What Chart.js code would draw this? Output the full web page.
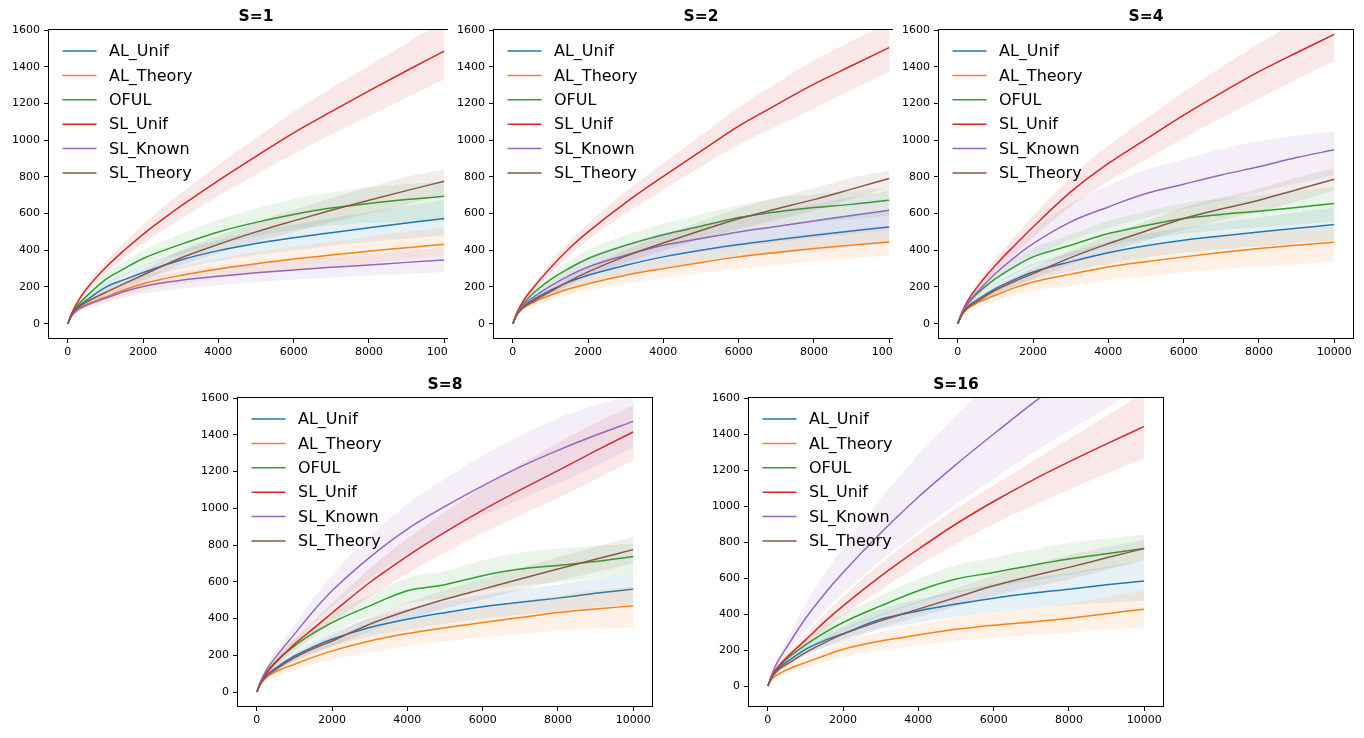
<!DOCTYPE html>
<html>
<head>
<meta charset="utf-8">
<script src="https://cdn.jsdelivr.net/npm/chart.js@4.4.0/dist/chart.umd.min.js"></script>
<style>
html, body { margin: 0; padding: 0; background: #fff; width: 1364px; height: 738px; overflow: hidden; }
canvas.panel { position: absolute; background: #fff; }
</style>
</head>
<body>
<canvas id="c1" class="panel" width="470" height="370" style="left:3px;top:0px"></canvas>
<canvas id="c2" class="panel" width="470" height="370" style="left:448px;top:0px"></canvas>
<canvas id="c3" class="panel" width="470" height="370" style="left:893px;top:0px"></canvas>
<canvas id="c4" class="panel" width="470" height="370" style="left:192px;top:368px"></canvas>
<canvas id="c5" class="panel" width="470" height="370" style="left:703px;top:368px"></canvas>
<script>
// ---------- data ----------
const steps = [0, 100, 250, 500, 1000, 1500, 2000, 3000, 4000, 5000, 6000, 7000, 8000, 9000, 10000];
const seriesNames = ['AL_Unif', 'AL_Theory', 'OFUL', 'SL_Unif', 'SL_Known', 'SL_Theory'];
const seriesColors = ['#1f77b4', '#ff7f0e', '#2ca02c', '#d62728', '#9467bd', '#8c564b'];
const bandColors = ['rgba(31,119,180,0.11)', 'rgba(255,127,14,0.11)', 'rgba(44,160,44,0.11)',
                    'rgba(214,39,40,0.11)', 'rgba(148,103,189,0.11)', 'rgba(140,86,75,0.11)'];
const panelTitles = ['S=1', 'S=2', 'S=4', 'S=8', 'S=16'];
const xTickValues = [0, 2000, 4000, 6000, 8000, 10000];
const yTickValues = [0, 200, 400, 600, 800, 1000, 1200, 1400, 1600];
const xRange = [-500, 10500];
const yMax = 1600;
const yMins = [-78, -78, -78, -76, -111];

// S=1
const s1_AL_Unif      = [0, 48, 90, 128, 198, 240, 278, 347, 398, 437, 468, 496, 523, 549, 573];
const s1_AL_Unif_lo   = [0, 43, 80, 113, 174, 210, 242, 300, 342, 374, 400, 424, 446, 464, 480];
const s1_AL_Unif_hi   = [0, 53, 100, 143, 222, 270, 316, 396, 456, 502, 540, 574, 608, 642, 675];
const s1_AL_Theory    = [0, 42, 76, 105, 145, 185, 218, 263, 298, 327, 352, 374, 395, 414, 433];
const s1_AL_Theory_lo = [0, 36, 64, 88, 121, 153, 180, 217, 246, 270, 290, 308, 326, 348, 370];
const s1_AL_Theory_hi = [0, 48, 88, 122, 170, 218, 258, 312, 355, 390, 420, 447, 474, 500, 525];
const s1_OFUL         = [0, 50, 98, 150, 240, 300, 355, 432, 500, 552, 595, 630, 655, 676, 694];
const s1_OFUL_lo      = [0, 44, 86, 131, 209, 262, 312, 378, 435, 478, 512, 535, 548, 553, 558];
const s1_OFUL_hi      = [0, 56, 110, 169, 271, 338, 400, 487, 565, 627, 678, 715, 742, 760, 775];
const s1_SL_Unif      = [0, 55, 115, 190, 305, 400, 487, 640, 780, 912, 1040, 1155, 1268, 1378, 1485];
const s1_SL_Unif_lo   = [0, 50, 104, 171, 273, 357, 435, 570, 695, 812, 925, 1030, 1132, 1232, 1330];
const s1_SL_Unif_hi   = [0, 60, 126, 209, 337, 443, 539, 710, 865, 1012, 1155, 1282, 1405, 1528, 1650];
const s1_SL_Known     = [0, 42, 74, 100, 138, 175, 203, 236, 258, 277, 293, 307, 320, 334, 347];
const s1_SL_Known_lo  = [0, 35, 62, 83, 113, 142, 162, 190, 210, 227, 241, 252, 262, 272, 282];
const s1_SL_Known_hi  = [0, 49, 86, 117, 163, 208, 244, 282, 306, 327, 345, 362, 378, 396, 415];
const s1_SL_Theory    = [0, 46, 85, 118, 170, 218, 265, 358, 432, 500, 560, 618, 672, 725, 776];
const s1_SL_Theory_lo = [0, 41, 76, 105, 151, 194, 236, 318, 385, 447, 500, 552, 600, 648, 700];
const s1_SL_Theory_hi = [0, 51, 94, 131, 189, 242, 294, 398, 479, 553, 620, 684, 744, 800, 840];

// S=2
const s2_AL_Unif      = [0, 47, 88, 125, 182, 228, 264, 318, 364, 400, 431, 457, 482, 505, 527];
const s2_AL_Unif_lo   = [0, 41, 76, 107, 152, 190, 220, 265, 303, 333, 360, 380, 400, 418, 437];
const s2_AL_Unif_hi   = [0, 53, 100, 143, 212, 266, 308, 371, 425, 467, 503, 534, 564, 592, 620];
const s2_AL_Theory    = [0, 44, 80, 112, 155, 190, 218, 264, 300, 333, 364, 388, 409, 428, 445];
const s2_AL_Theory_lo = [0, 37, 67, 93, 128, 157, 180, 218, 248, 275, 300, 320, 338, 355, 372];
const s2_AL_Theory_hi = [0, 51, 93, 131, 182, 223, 256, 310, 352, 391, 428, 456, 480, 500, 515];
const s2_OFUL         = [0, 52, 102, 158, 240, 302, 355, 427, 485, 531, 578, 609, 633, 650, 673];
const s2_OFUL_lo      = [0, 45, 88, 136, 205, 260, 307, 372, 425, 467, 505, 535, 555, 570, 590];
const s2_OFUL_hi      = [0, 59, 116, 180, 275, 344, 403, 482, 545, 595, 645, 683, 705, 722, 740];
const s2_SL_Unif      = [0, 56, 115, 185, 305, 410, 500, 660, 803, 940, 1076, 1192, 1305, 1405, 1504];
const s2_SL_Unif_lo   = [0, 51, 104, 167, 276, 372, 455, 600, 730, 855, 975, 1075, 1175, 1275, 1373];
const s2_SL_Unif_hi   = [0, 61, 126, 203, 334, 448, 545, 720, 876, 1025, 1177, 1309, 1435, 1540, 1640];
const s2_SL_Known     = [0, 50, 95, 138, 205, 262, 309, 373, 427, 464, 500, 530, 560, 590, 618];
const s2_SL_Known_lo  = [0, 43, 81, 117, 175, 222, 262, 316, 360, 392, 420, 445, 468, 490, 510];
const s2_SL_Known_hi  = [0, 57, 109, 159, 235, 302, 356, 430, 494, 536, 580, 615, 652, 690, 725];
const s2_SL_Theory    = [0, 46, 84, 118, 175, 232, 282, 368, 440, 508, 572, 625, 676, 733, 791];
const s2_SL_Theory_lo = [0, 41, 76, 106, 158, 210, 255, 333, 398, 459, 516, 565, 615, 680, 745];
const s2_SL_Theory_hi = [0, 51, 92, 130, 192, 254, 309, 403, 482, 557, 628, 686, 738, 795, 835];

// S=4
const s4_AL_Unif      = [0, 48, 90, 128, 191, 240, 282, 338, 387, 425, 455, 478, 500, 520, 540];
const s4_AL_Unif_lo   = [0, 42, 78, 110, 162, 203, 238, 285, 327, 360, 386, 405, 422, 438, 455];
const s4_AL_Unif_hi   = [0, 54, 102, 146, 220, 277, 326, 391, 447, 490, 524, 551, 578, 606, 636];
const s4_AL_Theory    = [0, 44, 80, 112, 155, 195, 227, 270, 309, 338, 364, 388, 409, 427, 444];
const s4_AL_Theory_lo = [0, 35, 63, 88, 122, 152, 175, 208, 237, 258, 278, 296, 310, 323, 336];
const s4_AL_Theory_hi = [0, 53, 97, 136, 188, 238, 279, 332, 381, 418, 450, 477, 500, 517, 530];
const s4_OFUL         = [0, 52, 103, 160, 245, 310, 364, 427, 491, 535, 573, 595, 613, 633, 655];
const s4_OFUL_lo      = [0, 46, 90, 139, 213, 268, 315, 368, 422, 460, 490, 510, 525, 540, 558];
const s4_OFUL_hi      = [0, 58, 116, 181, 277, 352, 413, 486, 560, 610, 656, 680, 700, 722, 745];
const s4_SL_Unif      = [0, 58, 120, 195, 318, 425, 527, 718, 873, 1005, 1136, 1258, 1373, 1476, 1576];
const s4_SL_Unif_lo   = [0, 52, 107, 174, 283, 378, 468, 638, 776, 895, 1010, 1120, 1225, 1330, 1431];
const s4_SL_Unif_hi   = [0, 64, 133, 216, 353, 472, 586, 798, 970, 1117, 1262, 1398, 1525, 1640, 1720];
const s4_SL_Known     = [0, 54, 108, 168, 273, 360, 436, 555, 636, 709, 760, 810, 855, 905, 947];
const s4_SL_Known_lo  = [0, 46, 92, 143, 230, 300, 360, 455, 520, 580, 625, 670, 715, 765, 809];
const s4_SL_Known_hi  = [0, 62, 124, 193, 316, 420, 512, 655, 752, 838, 895, 950, 995, 1025, 1045];
const s4_SL_Theory    = [0, 46, 85, 120, 182, 230, 273, 360, 436, 505, 573, 625, 673, 730, 787];
const s4_SL_Theory_lo = [0, 41, 76, 106, 160, 205, 243, 322, 390, 452, 513, 563, 610, 665, 725];
const s4_SL_Theory_hi = [0, 51, 94, 134, 204, 255, 303, 398, 482, 558, 633, 687, 736, 795, 848];

// S=8
const s8_AL_Unif      = [0, 48, 90, 130, 196, 245, 287, 351, 396, 432, 464, 488, 511, 537, 560];
const s8_AL_Unif_lo   = [0, 42, 79, 113, 170, 212, 248, 302, 340, 372, 398, 420, 440, 460, 478];
const s8_AL_Unif_hi   = [0, 54, 101, 147, 222, 278, 326, 400, 452, 492, 530, 558, 585, 618, 651];
const s8_AL_Theory    = [0, 43, 78, 110, 151, 190, 224, 278, 318, 350, 378, 405, 433, 452, 469];
const s8_AL_Theory_lo = [0, 35, 62, 87, 119, 150, 176, 218, 250, 275, 297, 316, 334, 345, 351];
const s8_AL_Theory_hi = [0, 51, 94, 133, 183, 230, 272, 338, 386, 425, 459, 492, 525, 552, 575];
const s8_OFUL         = [0, 52, 105, 165, 251, 320, 378, 469, 551, 584, 633, 669, 689, 710, 738];
const s8_OFUL_lo      = [0, 46, 92, 144, 220, 280, 330, 410, 482, 510, 550, 580, 598, 620, 651];
const s8_OFUL_hi      = [0, 58, 118, 186, 282, 360, 426, 528, 620, 658, 716, 758, 780, 795, 805];
const s8_SL_Unif      = [0, 52, 102, 160, 260, 345, 430, 596, 740, 870, 990, 1100, 1205, 1312, 1415];
const s8_SL_Unif_lo   = [0, 46, 90, 141, 228, 302, 376, 520, 645, 760, 866, 962, 1055, 1157, 1260];
const s8_SL_Unif_hi   = [0, 58, 114, 179, 292, 388, 484, 672, 835, 980, 1114, 1238, 1355, 1462, 1560];
const s8_SL_Known     = [0, 58, 118, 190, 315, 440, 551, 733, 887, 1010, 1122, 1225, 1315, 1397, 1473];
const s8_SL_Known_lo  = [0, 49, 99, 160, 265, 370, 465, 620, 752, 860, 958, 1050, 1135, 1230, 1333];
const s8_SL_Known_hi  = [0, 67, 137, 220, 365, 510, 637, 846, 1022, 1160, 1286, 1395, 1490, 1560, 1620];
const s8_SL_Theory    = [0, 46, 86, 122, 187, 236, 278, 369, 442, 505, 560, 615, 669, 722, 775];
const s8_SL_Theory_lo = [0, 41, 77, 108, 167, 211, 249, 330, 397, 455, 505, 556, 605, 653, 700];
const s8_SL_Theory_hi = [0, 51, 95, 136, 207, 261, 307, 408, 487, 555, 615, 675, 733, 790, 845];

// S=16
const s16_AL_Unif      = [0, 48, 92, 133, 204, 252, 291, 371, 417, 455, 488, 515, 538, 562, 584];
const s16_AL_Unif_lo   = [0, 42, 80, 115, 175, 215, 248, 315, 352, 385, 410, 432, 450, 462, 473];
const s16_AL_Unif_hi   = [0, 54, 104, 151, 233, 290, 334, 427, 482, 525, 566, 598, 628, 662, 696];
const s16_AL_Theory    = [0, 36, 62, 90, 130, 168, 204, 250, 284, 315, 338, 356, 377, 402, 427];
const s16_AL_Theory_lo = [0, 29, 50, 72, 104, 134, 162, 198, 225, 250, 268, 282, 298, 311, 325];
const s16_AL_Theory_hi = [0, 43, 74, 108, 156, 202, 246, 302, 343, 380, 408, 430, 456, 494, 529];
const s16_OFUL         = [0, 50, 98, 150, 228, 295, 353, 445, 529, 594, 631, 670, 705, 735, 764];
const s16_OFUL_lo      = [0, 44, 86, 131, 200, 258, 308, 390, 462, 518, 552, 585, 618, 655, 696];
const s16_OFUL_hi      = [0, 56, 110, 169, 256, 332, 398, 500, 596, 670, 712, 757, 795, 820, 840];
const s16_SL_Unif      = [0, 52, 100, 158, 255, 355, 445, 610, 760, 900, 1025, 1140, 1245, 1345, 1442];
const s16_SL_Unif_lo   = [0, 46, 88, 139, 223, 310, 390, 535, 668, 790, 898, 998, 1090, 1180, 1265];
const s16_SL_Unif_hi   = [0, 58, 112, 177, 285, 396, 498, 680, 842, 985, 1115, 1245, 1372, 1500, 1630];
const s16_SL_Known     = [0, 62, 130, 215, 375, 510, 630, 850, 1050, 1230, 1400, 1565, 1720, 1870, 2015];
const s16_SL_Known_lo  = [0, 51, 106, 176, 305, 415, 515, 695, 860, 1010, 1150, 1290, 1420, 1545, 1665];
const s16_SL_Known_hi  = [0, 73, 154, 254, 455, 620, 770, 1040, 1285, 1500, 1710, 1910, 2100, 2280, 2450];
const s16_SL_Theory    = [0, 45, 84, 120, 186, 240, 288, 362, 427, 492, 557, 610, 659, 712, 764];
const s16_SL_Theory_lo = [0, 40, 75, 107, 168, 215, 258, 325, 383, 442, 500, 548, 592, 645, 700];
const s16_SL_Theory_hi = [0, 50, 93, 133, 204, 265, 318, 400, 471, 543, 614, 672, 726, 772, 813];

// tables built from the named arrays
const panelMeans = [
  [s1_AL_Unif, s1_AL_Theory, s1_OFUL, s1_SL_Unif, s1_SL_Known, s1_SL_Theory],
  [s2_AL_Unif, s2_AL_Theory, s2_OFUL, s2_SL_Unif, s2_SL_Known, s2_SL_Theory],
  [s4_AL_Unif, s4_AL_Theory, s4_OFUL, s4_SL_Unif, s4_SL_Known, s4_SL_Theory],
  [s8_AL_Unif, s8_AL_Theory, s8_OFUL, s8_SL_Unif, s8_SL_Known, s8_SL_Theory],
  [s16_AL_Unif, s16_AL_Theory, s16_OFUL, s16_SL_Unif, s16_SL_Known, s16_SL_Theory]
];
const panelLows = [
  [s1_AL_Unif_lo, s1_AL_Theory_lo, s1_OFUL_lo, s1_SL_Unif_lo, s1_SL_Known_lo, s1_SL_Theory_lo],
  [s2_AL_Unif_lo, s2_AL_Theory_lo, s2_OFUL_lo, s2_SL_Unif_lo, s2_SL_Known_lo, s2_SL_Theory_lo],
  [s4_AL_Unif_lo, s4_AL_Theory_lo, s4_OFUL_lo, s4_SL_Unif_lo, s4_SL_Known_lo, s4_SL_Theory_lo],
  [s8_AL_Unif_lo, s8_AL_Theory_lo, s8_OFUL_lo, s8_SL_Unif_lo, s8_SL_Known_lo, s8_SL_Theory_lo],
  [s16_AL_Unif_lo, s16_AL_Theory_lo, s16_OFUL_lo, s16_SL_Unif_lo, s16_SL_Known_lo, s16_SL_Theory_lo]
];
const panelHighs = [
  [s1_AL_Unif_hi, s1_AL_Theory_hi, s1_OFUL_hi, s1_SL_Unif_hi, s1_SL_Known_hi, s1_SL_Theory_hi],
  [s2_AL_Unif_hi, s2_AL_Theory_hi, s2_OFUL_hi, s2_SL_Unif_hi, s2_SL_Known_hi, s2_SL_Theory_hi],
  [s4_AL_Unif_hi, s4_AL_Theory_hi, s4_OFUL_hi, s4_SL_Unif_hi, s4_SL_Known_hi, s4_SL_Theory_hi],
  [s8_AL_Unif_hi, s8_AL_Theory_hi, s8_OFUL_hi, s8_SL_Unif_hi, s8_SL_Known_hi, s8_SL_Theory_hi],
  [s16_AL_Unif_hi, s16_AL_Theory_hi, s16_OFUL_hi, s16_SL_Unif_hi, s16_SL_Known_hi, s16_SL_Theory_hi]
];

// ---------- rendering ----------
const FONT = "'DejaVu Sans', 'Liberation Sans', sans-serif";
Chart.defaults.font.family = FONT;
Chart.defaults.color = '#000';
Chart.defaults.animation = false;

const toPts = arr => steps.map((x, k) => ({ x: x, y: arr[k] }));

const framePlugin = {
  id: 'frame',
  afterDatasetsDraw(chart) {
    const a = chart.chartArea, ctx = chart.ctx;
    ctx.save();
    ctx.strokeStyle = '#000';
    ctx.lineWidth = 1;
    ctx.strokeRect(Math.round(a.left) - 0.5, Math.round(a.top) - 0.5,
                   Math.round(a.right - a.left) + 1, Math.round(a.bottom - a.top) + 1);
    ctx.restore();
  }
};

const insideLegend = {
  id: 'insideLegend',
  afterDraw(chart) {
    const a = chart.chartArea, ctx = chart.ctx;
    const items = chart.data.datasets.filter(d => d.isMean);
    ctx.save();
    ctx.font = "16px " + FONT;
    ctx.textBaseline = 'middle';
    ctx.textAlign = 'left';
    items.forEach((d, i) => {
      const y = a.top + 21 + i * 24.4;
      ctx.strokeStyle = d.borderColor;
      ctx.lineWidth = 1.5;
      ctx.beginPath();
      ctx.moveTo(a.left + 13.5, y);
      ctx.lineTo(a.left + 47.5, y);
      ctx.stroke();
      ctx.fillStyle = '#000';
      ctx.fillText(d.label, a.left + 60, y + 1);
    });
    ctx.restore();
  }
};

function buildDatasets(p) {
  const ds = [];
  const total = seriesNames.length * 3;
  seriesNames.forEach((name, i) => {
    ds.push({
      label: name + ' lower', data: toPts(panelLows[p][i]), isMean: false,
      borderWidth: 0, borderColor: 'rgba(0,0,0,0)', pointRadius: 0, fill: false,
      cubicInterpolationMode: 'monotone', order: total - ds.length
    });
    ds.push({
      label: name + ' upper', data: toPts(panelHighs[p][i]), isMean: false,
      borderWidth: 0, borderColor: 'rgba(0,0,0,0)', backgroundColor: bandColors[i],
      pointRadius: 0, fill: '-1', cubicInterpolationMode: 'monotone', order: total - ds.length
    });
    ds.push({
      label: name, data: toPts(panelMeans[p][i]), isMean: true,
      borderWidth: 1.5, borderColor: seriesColors[i], backgroundColor: seriesColors[i],
      pointRadius: 0, fill: false, cubicInterpolationMode: 'monotone', order: total - ds.length
    });
  });
  return ds;
}

function makeChart(id, p) {
  return new Chart(document.getElementById(id), {
    type: 'line',
    data: { datasets: buildDatasets(p) },
    options: {
      responsive: false,
      maintainAspectRatio: false,
      devicePixelRatio: 1,
      animation: false,
      events: [],
      layout: { padding: { left: 0, right: 10, top: 0, bottom: 0 } },
      plugins: {
        legend: { display: false },
        tooltip: { enabled: false },
        title: {
          display: true, text: panelTitles[p], fullSize: false, color: '#000',
          font: { family: FONT, size: 15.5, weight: 'bold', lineHeight: 1.2 },
          padding: { top: 8, bottom: 3.4 }
        }
      },
      scales: {
        x: {
          type: 'linear', min: xRange[0], max: xRange[1],
          afterFit: s => { s.height = 32; },
          afterBuildTicks: s => { s.ticks = xTickValues.map(v => ({ value: v })); },
          ticks: { font: { family: FONT, size: 11 }, color: '#000', padding: 3,
                   maxRotation: 0, autoSkip: false, includeBounds: false,
                   callback: v => String(v) },
          grid: { drawOnChartArea: false, drawTicks: true, tickLength: 5, color: '#000', lineWidth: 1 },
          border: { display: false }
        },
        y: {
          type: 'linear', min: yMins[p], max: yMax,
          afterFit: s => { s.width = 46; },
          afterBuildTicks: s => { s.ticks = yTickValues.map(v => ({ value: v })); },
          ticks: { font: { family: FONT, size: 11 }, color: '#000', padding: 4,
                   autoSkip: false, includeBounds: false, callback: v => String(v) },
          grid: { drawOnChartArea: false, drawTicks: true, tickLength: 5, color: '#000', lineWidth: 1 },
          border: { display: false }
        }
      }
    },
    plugins: [framePlugin, insideLegend]
  });
}

['c1', 'c2', 'c3', 'c4', 'c5'].forEach((id, p) => makeChart(id, p));
</script>
</body>
</html>
